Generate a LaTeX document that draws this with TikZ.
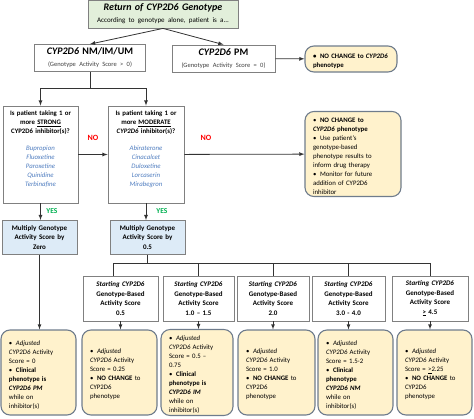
\documentclass[tikz,border=0pt]{standalone}
\usepackage{fontspec}
\setmainfont{Carlito}
\usetikzlibrary{arrows,shapes}
\definecolor{edgeGray}{HTML}{808080}
\definecolor{lineGray}{HTML}{333333}
\definecolor{genoGreen}{HTML}{E2EFDA}
\definecolor{multBlue}{HTML}{DDEBF7}
\definecolor{noteYellow}{HTML}{FFF2CC}
\definecolor{noteEdge}{HTML}{6F7C8C}
\definecolor{drugBlue}{HTML}{4F7DC0}
\definecolor{noRed}{HTML}{FF0000}
\definecolor{yesGreen}{HTML}{00B050}
\definecolor{noteText}{HTML}{404040}
\tikzstyle{plain box} = [draw=edgeGray, line width=0.8pt, fill=white, align=center, inner sep=1pt]
\tikzstyle{geno box} = [plain box, fill=genoGreen]
\tikzstyle{mult box} = [plain box, fill=multBlue, font=\fontsize{7}{9.5}\selectfont\bfseries]
\tikzstyle{start box} = [plain box, font=\fontsize{7}{9.5}\selectfont\bfseries]
\tikzstyle{note box} = [draw=noteEdge, line width=1.1pt, fill=noteYellow, rounded corners=9pt, align=left, inner xsep=8pt, inner ysep=2pt, font=\fontsize{6.8}{9}\selectfont]
\newcommand{\gene}{\textit{CYP2D6}}
\newcommand{\itm}[1]{\par\hangindent=7pt\hangafter=1\noindent\hbox to 7pt{\textbullet\hfil}#1}

\begin{document}
\begin{tikzpicture}
[x=1pt, y=-1pt,
lineDecorateout/.style={-latex, line width=0.8pt, draw=lineGray}, %
lineDecorate/.style={-, line width=0.8pt, draw=lineGray}, %
noLabel/.style={text=noRed, font=\fontsize{8}{9}\selectfont\bfseries}, %
yesLabel/.style={text=yesGreen, font=\fontsize{7.5}{9}\selectfont\bfseries}]

\useasboundingbox (0,0) rectangle (474,418);

%% genotype boxes
\node (return) at (163,14) [geno box, minimum width=150, minimum height=28, text width=146] {{\fontsize{10}{11.5}\selectfont\bfseries\itshape Return of CYP2D6 Genotype}\\{\fontsize{7}{9}\selectfont According to genotype alone, patient is a...}};
\node (nmimum) at (90,58) [plain box, minimum width=111, minimum height=27, text width=107] {{\fontsize{10}{11}\selectfont\bfseries\gene{} NM/IM/UM}\\{\fontsize{6.5}{8}\selectfont\color{noteText}(Genotype Activity Score > 0)}};
\node (pm) at (223.5,58.5) [plain box, minimum width=103, minimum height=27, text width=99] {{\fontsize{10}{11}\selectfont\bfseries\gene{} PM}\\{\fontsize{6.5}{8}\selectfont\color{noteText}(Genotype Activity Score = 0)}};
\node (pmNote) at (351,59) [note box, minimum width=92, minimum height=26, text width=76] {\bfseries\itm{NO CHANGE to \gene\\phenotype}};

%% inhibitor questions
\node (strong) at (40.5,154.5) [plain box, minimum width=75, minimum height=97, text width=73, font=\fontsize{6.8}{9}\selectfont] {\textbf{Is patient taking 1 or\\more \underline{STRONG}\\CYP2D6 inhibitor(s)?}\\[8pt]{\color{drugBlue}\itshape Bupropion\\Fluoxetine\\Paroxetine\\Quinidine\\Terbinafine}\\[2pt]\mbox{}};
\node (moderate) at (146,154.5) [plain box, minimum width=76, minimum height=97, text width=74, font=\fontsize{6.8}{9}\selectfont] {\textbf{Is patient taking 1 or\\more \underline{MODERATE}\\\gene{} inhibitor(s)?}\\[8pt]{\color{drugBlue}\itshape Abiraterone\\Cinacalcet\\Duloxetine\\Lorcaserin\\Mirabegron}\\[2pt]\mbox{}};
\node (modNote) at (353,154) [note box, minimum width=96, minimum height=80, text width=80] {\itm{\textbf{NO CHANGE to}\\\textbf{\gene{} phenotype}}\itm{Use patient's\\genotype-based\\phenotype results to\\inform drug therapy}\itm{Monitor for future\\addition of CYP2D6\\inhibitor}};
\node (noStrong) at (93,138) [noLabel] {NO};
\node (noModerate) at (206,138) [noLabel] {NO};
\node (yesStrong) at (52,211) [yesLabel] {YES};
\node (yesModerate) at (162,211) [yesLabel] {YES};

%% multiply boxes
\node (multZero) at (39.5,237.5) [mult box, minimum width=75, minimum height=34, text width=71] {Multiply Genotype\\Activity Score by\\Zero};
\node (multHalf) at (147.5,237.5) [mult box, minimum width=75, minimum height=34, text width=71] {Multiply Genotype\\Activity Score by\\0.5};

%% starting scores
\foreach \nodename/\x/\w/\tw/\score in {
startA/120.5/75/71/0.5, startB/198.5/71/67/1.0 -- 1.5, startC/273/72/68/2.0, startD/348.5/73/69/3.0 - 4.0, startE/430/76/72/\underline{>} 4.5}
{
\node (\nodename) at (\x,298.5) [start box, minimum width=\w, minimum height=45, text width=\tw] {\textit{Starting \gene}\\Genotype-Based\\Activity Score\\\score};
}

%% adjusted results
\node (noteA) at (38.5,372.5) [note box, minimum width=75, minimum height=85, text width=59] {\itm{\textit{Adjusted}\\\gene{} Activity\\Score = 0}\itm{\textbf{Clinical}\\\textbf{phenotype is}\\\textbf{\textit{CYP2D6 PM}}\\while on\\inhibitor(s)}};
\node (noteB) at (119.5,372.5) [note box, minimum width=75, minimum height=85, text width=59] {\itm{\textit{Adjusted}\\\gene{} Activity\\Score = 0.25}\itm{\textbf{NO CHANGE} to\\CYP2D6\\phenotype}};
\node (noteC) at (197,372.5) [note box, minimum width=72, minimum height=85, text width=56] {\itm{\textit{Adjusted}\\\gene{} Activity\\Score = 0.5 --\\0.75}\itm{\textbf{Clinical}\\\textbf{phenotype is}\\\textbf{\textit{CYP2D6 IM}}\\while on\\inhibitor(s)}};
\node (noteD) at (276.5,372.5) [note box, minimum width=77, minimum height=85, text width=61] {\itm{\textit{Adjusted}\\\gene{} Activity\\Score = 1.0}\itm{\textbf{NO CHANGE} to\\CYP2D6\\phenotype}};
\node (noteE) at (355.5,372.5) [note box, minimum width=75, minimum height=85, text width=59] {\itm{\textit{Adjusted}\\\gene{} Activity\\Score = 1.5-2}\itm{\textbf{Clinical}\\\textbf{phenotype}\\\textbf{\textit{CYP2D6 NM}}\\while on\\inhibitor(s)}};
\node (noteF) at (434.5,372.5) [note box, minimum width=75, minimum height=85, text width=59] {\itm{\textit{Adjusted}\\\gene{} Activity\\Score = \underline{>}2.25}\itm{\textbf{NO CHANGE} to\\CYP2D6\\phenotype}};

%% edges or lines
\coordinate (fork) at (90,88);
\coordinate (split) at (147.5,263);
\draw[lineDecorateout] (return.south) -- (nmimum.north);
\draw[lineDecorateout] (return.south) -- (pm.north);
\draw[lineDecorateout] (pm) -- (pmNote);
\draw[lineDecorate] (nmimum) -- (fork);
\draw[lineDecorateout] (fork) -| (strong.north);
\draw[lineDecorateout] (fork) -| (moderate.north);
\draw[lineDecorateout] (strong) -- (moderate);
\draw[lineDecorateout] (moderate) -- (modNote);
\draw[lineDecorateout] (strong.south) -- (strong.south |- multZero.north);
\draw[lineDecorateout] (moderate.south) -- (moderate.south |- multHalf.north);
\draw[lineDecorateout] (multZero.south) -- (multZero.south |- noteA.north);
\draw[lineDecorate] (multHalf) -- (split);
\draw[lineDecorate] (split) -| ([xshift=-7.5pt]startA.north);
\foreach \endnode in {startB, startC, startD, startE}
{
\draw[lineDecorate] (split) -| (\endnode.north);
}
\foreach \startnode/\endnode in {startA/noteB, startB/noteC, startC/noteD, startD/noteE, startE/noteF}
{
\draw[lineDecorateout] (\startnode.south) -- (\startnode.south |- \endnode.north);
}

\end{tikzpicture}
\end{document}
